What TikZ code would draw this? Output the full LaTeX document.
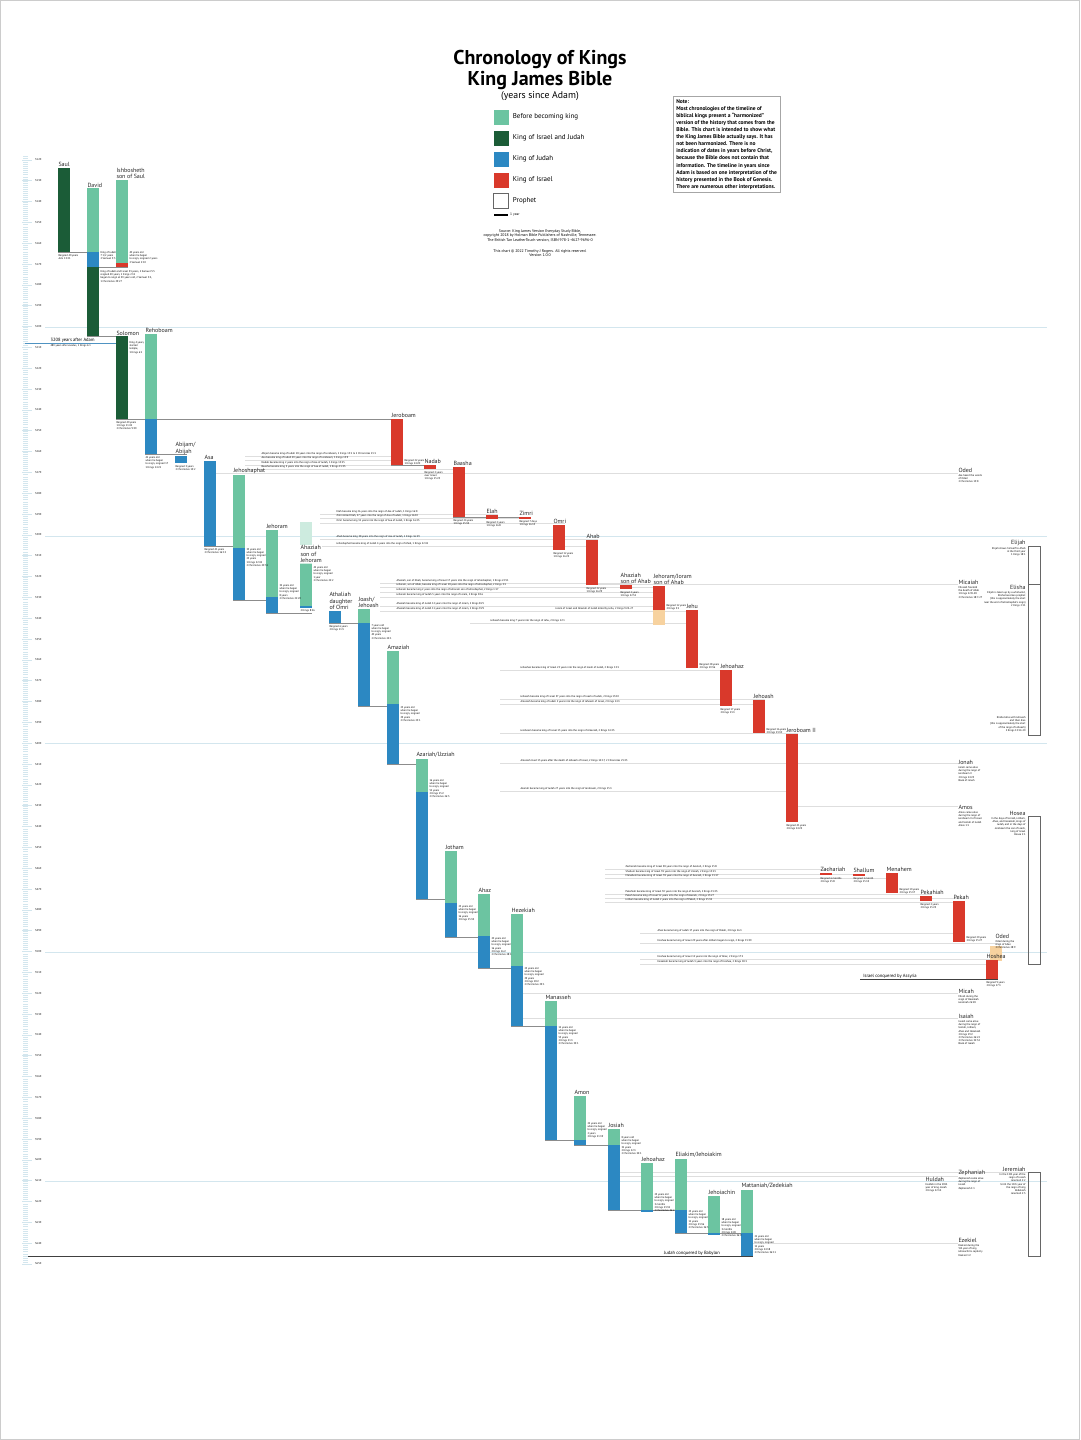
\documentclass[tikz,border=0pt]{standalone}
\usepackage{fontspec}
\setmainfont{PT Sans}
\usepackage{tikz}
\usetikzlibrary{positioning}

\definecolor{before}{HTML}{6CC4A1}
\definecolor{both}{HTML}{1B5C37}
\definecolor{judah}{HTML}{2C88C2}
\definecolor{israel}{HTML}{D9392B}
\definecolor{pale}{HTML}{F7D29F}
\definecolor{palegreen}{HTML}{CDEBDF}
\definecolor{gridblue}{HTML}{D3E6EE}
\definecolor{adamblue}{HTML}{4F93C2}

\newcommand{\kingfont}{\fontsize{6}{6.4}\selectfont}
\newcommand{\tinyfont}{\fontsize{2.7}{3.2}\selectfont}
% one segment of a reign bar: colour, left x, top y, bottom y
\newcommand{\seg}[4]{\fill[#1] (#2,#3) rectangle (#2+12,#4);}

\tikzset{
  kname/.style={font=\kingfont, anchor=south west, inner sep=0.3pt, text=black!85},
  pname/.style={font=\kingfont, anchor=south east, inner sep=0.3pt, text=black!85},
  tiny/.style={font=\tinyfont, anchor=north west, align=left, inner sep=0.3pt},
  tinyr/.style={font=\tinyfont, anchor=north east, align=right, inner sep=0.3pt},
  synctext/.style={font=\tinyfont, anchor=south west, inner sep=0.4pt},
  syncline/.style={draw=black!13, line width=0.5pt},
  endline/.style={draw=black!45, line width=0.6pt},
  century/.style={draw=gridblue, line width=0.8pt},
  prophetbox/.style={draw=black!60, line width=0.6pt},
  legbox/.style={minimum size=15pt, inner sep=0pt},
  legtext/.style={font=\fontsize{7}{8}\selectfont, anchor=west, inner sep=0pt},
  tick/.style={draw=gridblue, line width=0.5pt}
}

\begin{document}
\begin{tikzpicture}[x=1pt,y=-1pt]
\useasboundingbox (0,0) rectangle (1080,1440);
\draw[black!20, line width=1pt] (0.5,0.5) rectangle (1079.5,1439.5);

% title and legend
\node[font=\fontsize{20}{21}\selectfont\bfseries] (title1) at (540,59) {Chronology of Kings};
\node[font=\fontsize{20}{21}\selectfont\bfseries] (title2) at (540,81) {King James Bible};
\node[font=\fontsize{9.8}{10}\selectfont] (subtitle) at (540,96) {(years since Adam)};

\node[legbox, fill=before] (lg1) at (501,117) {};
\node[legbox, fill=both] (lg2) at (501,138) {};
\node[legbox, fill=judah] (lg3) at (501,159) {};
\node[legbox, fill=israel] (lg4) at (501,180) {};
\node[legbox, draw=black!60, line width=0.5pt] (lg5) at (501,201) {};
\node[legtext, right=4pt of lg1] {Before becoming king};
\node[legtext, right=4pt of lg2] {King of Israel and Judah};
\node[legtext, right=4pt of lg3] {King of Judah};
\node[legtext, right=4pt of lg4] {King of Israel};
\node[legtext, right=4pt of lg5] {Prophet};
\coordinate (yr1) at (494,215);
\coordinate (yr2) at (508,215);
\draw[line width=2pt] (yr1) -- (yr2);
\node[font=\fontsize{3.6}{4}\selectfont, anchor=west, inner sep=0pt, right=2pt of yr2] {1 year};

\node[font=\fontsize{3.9}{4.4}\selectfont, align=center, anchor=north] (source) at (540,226)
  {Source: King James Version Everyday Study Bible,\\
   copyright 2018 by Holman Bible Publishers of Nashville, Tennessee.\\
   The British Tan LeatherTouch version, ISBN 978-1-4627-9696-0};
\node[font=\fontsize{3.9}{4.4}\selectfont, align=center, anchor=north] (rights) at (540,246)
  {This chart \textcopyright\ 2022 Timothy J Rogers. All rights reserved.\\ Version 1.0.0};

\node[draw=black!35, line width=0.5pt, anchor=north west, align=left, inner sep=3pt,
  font=\fontsize{5.5}{7.1}\selectfont\bfseries] (note) at (673,96)
  {Note:\\
   Most chronologies of the timeline of\\
   biblical kings present a ``harmonized''\\
   version of the history that comes from the\\
   Bible. This chart is intended to show what\\
   the King James Bible actually says. It has\\
   not been harmonized. There is no\\
   indication of dates in years before Christ,\\
   because the Bible does not contain that\\
   information. The timeline in years since\\
   Adam is based on one interpretation of the\\
   history presented in the Book of Genesis.\\
   There are numerous other interpretations.};

% year ruler
\foreach \i in {0,...,532}
  \draw[tick] (23,156+\i*2.083) -- (28,156+\i*2.083);
\foreach \i [evaluate=\i as \yr using int(3120+10*\i)] in {0,...,53} {
  \draw[tick, line width=0.7pt] (22,160+\i*20.83) -- (32,160+\i*20.83);
  \node[font=\fontsize{2.8}{3}\selectfont, anchor=west, inner sep=0pt] at (35,160+\i*20.83) {\yr};
}

% century lines
\foreach \y in {327,536,743,952,1181}
  \draw[century] (45,\y) -- (1047,\y);

% synchronism lines
\begin{scope}[every node/.style={synctext}]
  \draw[syncline] (245,456) -- (391,456) node[pos=0, xshift=16pt] {Abijam became king of Judah 18 years into the reign of Jeroboam, 1 Kings 15:1 \& 2 Chronicles 13:1};
  \draw[syncline] (245,460) -- (391,460) node[pos=0, xshift=16pt] {Asa became king of Judah 20 years into the reign of Jeroboam, 1 Kings 15:9};
  \draw[syncline] (245,465) -- (436,465) node[pos=0, xshift=16pt] {Nadab became king 2 years into the reign of Asa of Judah, 1 Kings 15:25};
  \draw[syncline] (245,469) -- (465,469) node[pos=0, xshift=16pt] {Baasha became king 3 years into the reign of Asa of Judah, 1 Kings 15:33};
  \draw[syncline] (216,473) -- (958,473);
  \draw[syncline] (320,514) -- (498,514) node[pos=0, xshift=16pt] {Elah became king 26 years into the reign of Asa of Judah, 1 Kings 16:8};
  \draw[syncline] (320,518) -- (531,518) node[pos=0, xshift=16pt] {Zimri killed Elah, 27 years into the reign of Asa of Judah, 1 Kings 16:10};
  \draw[syncline] (320,523) -- (565,523) node[pos=0, xshift=16pt] {Omri became king 31 years into the reign of Asa of Judah, 1 Kings 16:23};
  \draw[syncline] (320,539) -- (598,539) node[pos=0, xshift=16pt] {Ahab became king 38 years into the reign of Asa of Judah, 1 Kings 16:29};
  \draw[syncline] (320,546) -- (598,546) node[pos=0, xshift=16pt] {Jehoshaphat became king of Judah 4 years into the reign of Ahab, 1 Kings 22:41};
  \draw[syncline] (598,584) -- (958,584);
  \draw[syncline] (380,583) -- (632,583) node[pos=0, xshift=16pt] {Ahaziah, son of Ahab, became king of Israel 17 years into the reign of Jehoshaphat, 1 Kings 22:51};
  \draw[syncline] (380,587) -- (665,587) node[pos=0, xshift=16pt] {Jehoram, son of Ahab, became king of Israel 18 years into the reign of Jehoshaphat, 2 Kings 3:1};
  \draw[syncline] (380,592) -- (665,592) node[pos=0, xshift=16pt] {Jehoram became king 2 years into the reign of Jehoram son of Jehoshaphat, 2 Kings 1:17};
  \draw[syncline] (380,597) -- (665,597) node[pos=0, xshift=16pt] {Jehoram became king of Judah 5 years into the reign of Joram, 2 Kings 8:16};
  \draw[syncline] (380,606) -- (665,606) node[pos=0, xshift=16pt] {Ahaziah became king of Judah 12 years into the reign of Joram, 2 Kings 8:25};
  \draw[syncline] (380,611) -- (698,611) node[pos=0, xshift=16pt] {Ahaziah became king of Judah 11 years into the reign of Joram, 2 Kings 9:29}
     node[pos=0.55] {Joram of Israel and Ahaziah of Judah killed by Jehu, 2 Kings 9:24-27};
  \draw[syncline] (470,623) -- (698,623) node[pos=0, xshift=20pt] {Jehoash became king 7 years into the reign of Jehu, 2 Kings 12:1};
  \draw[syncline] (500,670) -- (732,670) node[pos=0, xshift=20pt] {Jehoahaz became king of Israel 23 years into the reign of Joash of Judah, 2 Kings 13:1};
  \draw[syncline] (500,699) -- (765,699) node[pos=0, xshift=20pt] {Jehoash became king of Israel 37 years into the reign of Joash of Judah, 2 Kings 13:10};
  \draw[syncline] (500,704) -- (765,704) node[pos=0, xshift=20pt] {Amaziah became king of Judah 2 years into the reign of Jehoash of Israel, 2 Kings 14:1};
  \draw[syncline] (500,733) -- (798,733) node[pos=0, xshift=20pt] {Jeroboam became king of Israel 15 years into the reign of Amaziah, 2 Kings 14:23};
  \draw[syncline] (500,763) -- (958,763) node[pos=0, xshift=20pt] {Amaziah lived 15 years after the death of Jehoash of Israel, 2 Kings 14:17, 2 Chronicles 25:25};
  \draw[syncline] (500,791) -- (798,791) node[pos=0, xshift=20pt] {Azariah became king of Judah 27 years into the reign of Jeroboam, 2 Kings 15:1};
  \draw[syncline] (798,806) -- (958,806);
  \draw[syncline] (605,869) -- (832,869) node[pos=0, xshift=20pt] {Zachariah became king of Israel 38 years into the reign of Azariah, 2 Kings 15:8};
  \draw[syncline] (605,874) -- (865,874) node[pos=0, xshift=20pt] {Shallum became king of Israel 39 years into the reign of Uzziah, 2 Kings 15:13};
  \draw[syncline] (605,878) -- (898,878) node[pos=0, xshift=20pt] {Menahem became king of Israel 39 years into the reign of Azariah, 2 Kings 15:17};
  \draw[syncline] (605,894) -- (932,894) node[pos=0, xshift=20pt] {Pekahiah became king of Israel 50 years into the reign of Azariah, 2 Kings 15:23};
  \draw[syncline] (605,898) -- (965,898) node[pos=0, xshift=20pt] {Pekah became king of Israel 52 years into the reign of Azariah, 2 Kings 15:27};
  \draw[syncline] (605,902) -- (965,902) node[pos=0, xshift=20pt] {Jotham became king of Judah 2 years into the reign of Pekah, 2 Kings 15:32};
  \draw[syncline] (640,933) -- (965,933) node[pos=0, xshift=17pt] {Ahaz became king of Judah 17 years into the reign of Pekah, 2 Kings 16:1};
  \draw[syncline] (640,943) -- (998,943) node[pos=0, xshift=17pt] {Hoshea became king of Israel 20 years after Jotham began to reign, 2 Kings 15:30};
  \draw[syncline] (640,959) -- (998,959) node[pos=0, xshift=17pt] {Hoshea became king of Israel 12 years into the reign of Ahaz, 2 Kings 17:1};
  \draw[syncline] (640,964) -- (998,964) node[pos=0, xshift=17pt] {Hezekiah became king of Judah 3 years into the reign of Hoshea, 2 Kings 18:1};
  \draw[syncline] (523,993) -- (958,993);
  \draw[syncline] (523,1018) -- (958,1018);
  \draw[syncline] (620,1172) -- (1028,1172);
  \draw[syncline] (620,1176) -- (958,1176);
  \draw[syncline] (753,1243) -- (958,1243);
\end{scope}

% succession lines
\begin{scope}[every path/.style={endline}]
  \draw (58,252) -- (99,252);
  \draw (87,267) -- (128,267);
  \draw (87,336) -- (128,336);
  \draw (116,419) -- (403,419);
  \draw (145,454) -- (187,454);
  \draw (204,546) -- (245,546);
  \draw (233,600) -- (278,600);
  \draw (266,613) -- (312,613);
  \draw (329,623) -- (370,623);
  \draw (358,706) -- (399,706);
  \draw (387,764) -- (428,764);
  \draw (416,899) -- (457,899);
  \draw (445,937) -- (490,937);
  \draw (478,968) -- (523,968);
  \draw (511,1026) -- (557,1026);
  \draw (545,1140) -- (586,1140);
  \draw (574,1145) -- (620,1145);
  \draw (608,1210) -- (687,1210);
  \draw (675,1233) -- (753,1233);
  \draw (391,465) -- (436,465);
  \draw (453,517) -- (531,517);
\end{scope}

% 3208 years after Adam
\draw[adamblue, line width=0.8pt] (25,343) -- (116,343);
\node[font=\fontsize{4.6}{5}\selectfont, anchor=south west, inner sep=0.3pt] (adam) at (50,343) {3208 years after Adam};
\node[tiny] at (50,344) {480 years after exodus, 1 Kings 6:1};

% kings of Israel and Judah, kings of Judah
\seg{both}{58}{168}{252}
\seg{before}{87}{188}{252} \seg{judah}{87}{252}{267} \seg{both}{87}{267}{336}
\seg{before}{116}{180}{263} \seg{israel}{116}{263}{267}
\seg{both}{116}{336}{419}
\seg{before}{145}{334}{419} \seg{judah}{145}{419}{454}
\seg{judah}{175}{456}{463}
\seg{judah}{204}{461}{546}
\seg{before}{233}{475}{548} \seg{judah}{233}{548}{600}
\seg{before}{266}{530}{597} \seg{judah}{266}{597}{613}
\seg{palegreen}{300}{522}{564} \seg{before}{300}{564}{606} \seg{judah}{300}{606}{608}
\seg{judah}{329}{611}{623}
\seg{before}{358}{609}{623} \seg{judah}{358}{623}{706}
\seg{before}{387}{651}{704} \seg{judah}{387}{704}{764}
\seg{before}{416}{759}{792} \seg{judah}{416}{792}{899}
\seg{before}{445}{851}{903} \seg{judah}{445}{903}{937}
\seg{before}{478}{894}{936} \seg{judah}{478}{936}{968}
\seg{before}{511}{914}{966} \seg{judah}{511}{966}{1026}
\seg{before}{545}{1001}{1026} \seg{judah}{545}{1026}{1140}
\seg{before}{574}{1096}{1140} \seg{judah}{574}{1140}{1145}
\seg{before}{608}{1129}{1145} \seg{judah}{608}{1145}{1210}
\seg{before}{641}{1163}{1210} \seg{judah}{641}{1210}{1211.5}
\seg{before}{675}{1159}{1210} \seg{judah}{675}{1210}{1233}
\seg{before}{708}{1196}{1233} \seg{judah}{708}{1233}{1234.5}
\seg{before}{741}{1190}{1233} \seg{judah}{741}{1233}{1256}

% kings of Israel
\seg{israel}{391}{419}{465}
\seg{israel}{424}{465}{469}
\seg{israel}{453}{467}{517}
\seg{israel}{486}{515}{519}
\seg{israel}{519}{517}{518.5}
\seg{israel}{553}{525}{550}
\seg{israel}{586}{540}{585}
\seg{israel}{620}{585}{589}
\seg{israel}{653}{586}{610} \seg{pale}{653}{610}{625}
\seg{israel}{686}{610}{668}
\seg{israel}{720}{670}{706}
\seg{israel}{753}{700}{733}
\seg{israel}{786}{734}{822}
\seg{israel}{820}{873}{875}
\seg{israel}{853}{874}{875.5}
\seg{israel}{886}{873}{893}
\seg{israel}{920}{896}{901}
\seg{israel}{953}{901}{942}
\seg{pale}{990}{946}{961}
\seg{israel}{986}{960}{979}

% end of the kingdoms
\draw[black!75, line width=1pt] (28,1256) -- (753,1256);
\node[font=\fontsize{4.6}{5}\selectfont, anchor=south, inner sep=0.6pt] (babylon) at (692,1256) {Judah conquered by Babylon};
\draw[black!75, line width=1pt] (860,979) -- (998,979);
\node[font=\fontsize{4.6}{5}\selectfont, anchor=south, inner sep=0.6pt] (assyria) at (890,979) {Israel conquered by Assyria};

% king names
\node[kname] (saul) at (58,167) {Saul};
\node[kname] (david) at (87,188) {David};
\node[kname, align=left] (ishbosheth) at (116,179) {Ishbosheth\\son of Saul};
\node[kname] (solomon) at (116,336) {Solomon};
\node[kname] (rehoboam) at (145,333) {Rehoboam};
\node[kname, align=left] (abijam) at (175,455) {Abijam/\\Abijah};
\node[kname] (asa) at (204,460) {Asa};
\node[kname] (jehoshaphat) at (233,474) {Jehoshaphat};
\node[kname] (jehoram) at (266,529) {Jehoram};
\node[kname, align=left, fill=white] (ahaziahj) at (300,563) {Ahaziah\\son of\\Jehoram};
\node[kname, align=left] (athaliah) at (329,610) {Athaliah\\daughter\\of Omri};
\node[kname, align=left] (joash) at (358,608) {Joash/\\Jehoash};
\node[kname] (amaziah) at (387,650) {Amaziah};
\node[kname] (azariah) at (416,758) {Azariah/Uzziah};
\node[kname] (jotham) at (445,850) {Jotham};
\node[kname] (ahaz) at (478,893) {Ahaz};
\node[kname] (hezekiah) at (511,913) {Hezekiah};
\node[kname] (manasseh) at (545,1000) {Manasseh};
\node[kname] (amon) at (574,1095) {Amon};
\node[kname] (josiah) at (608,1128) {Josiah};
\node[kname] (jehoahazj) at (641,1162) {Jehoahaz};
\node[kname] (jehoiakim) at (675,1158) {Eliakim/Jehoiakim};
\node[kname] (jehoiachin) at (708,1195) {Jehoiachin};
\node[kname] (zedekiah) at (741,1189) {Mattaniah/Zedekiah};
\node[kname] (jeroboam) at (391,418) {Jeroboam};
\node[kname] (nadab) at (424,464) {Nadab};
\node[kname] (baasha) at (453,466) {Baasha};
\node[kname] (elah) at (486,514) {Elah};
\node[kname] (zimri) at (519,516) {Zimri};
\node[kname] (omri) at (553,524) {Omri};
\node[kname] (ahab) at (586,539) {Ahab};
\node[kname, align=left] (ahaziahi) at (620,584) {Ahaziah\\son of Ahab};
\node[kname, align=left] (joram) at (653,585) {Jehoram/Joram\\son of Ahab};
\node[kname] (jehu) at (686,609) {Jehu};
\node[kname] (jehoahazi) at (720,669) {Jehoahaz};
\node[kname] (jehoash) at (753,699) {Jehoash};
\node[kname] (jeroboamii) at (786,733) {Jeroboam II};
\node[kname] (zachariah) at (820,872) {Zachariah};
\node[kname] (shallum) at (853,873) {Shallum};
\node[kname] (menahem) at (886,872) {Menahem};
\node[kname] (pekahiah) at (920,895) {Pekahiah};
\node[kname] (pekah) at (953,900) {Pekah};
\node[kname] (hoshea) at (986,959) {Hoshea};

% reign notes
\begin{scope}[every node/.style={tiny}]
  \node at (58,254) {Reigned 40 years\\Acts 13:21};
  \node at (100,251) {King of Judah\\7 1/2 years\\2 Samuel 5:5};
  \node at (100,270) {King of Judah and Israel 33 years, 2 Samuel 5:5\\reigned 40 years, 1 Kings 2:11\\began to reign at 30 years old, 2 Samuel 5:4,\\1 Chronicles 29:27};
  \node at (129,251) {40 years old\\when he began\\to reign, reigned 2 years\\2 Samuel 2:10};
  \node at (129,341) {King 4 years,\\started\\temple,\\1 Kings 6:1};
  \node at (116,421) {Reigned 40 years\\1 Kings 11:42\\2 Chronicles 9:30};
  \node at (145,456) {41 years old\\when he began\\to reign, reigned 17\\1 Kings 14:21};
  \node at (175,465) {Reigned 3 years\\2 Chronicles 13:2};
  \node at (204,548) {Reigned 41 years\\2 Chronicles 16:13};
  \node at (246,548) {35 years old\\when he began\\to reign, reigned\\25 years\\1 Kings 22:42\\2 Chronicles 20:31};
  \node at (279,584) {32 years old\\when he began\\to reign, reigned\\8 years\\2 Chronicles 21:20};
  \node at (313,566) {42 years old\\when he began\\to reign, reigned\\1 year\\2 Chronicles 22:2};
  \node at (300,609) {2 Kings 8:26};
  \node at (329,625) {Reigned 6 years\\2 Kings 11:3};
  \node at (371,624) {7 years old\\when he began\\to reign, reigned\\40 years\\2 Chronicles 24:1};
  \node at (400,706) {25 years old\\when he began\\to reign, reigned\\29 years\\2 Chronicles 25:1};
  \node at (429,779) {16 years old\\when he began\\to reign, reigned\\52 years\\2 Kings 15:2\\2 Chronicles 26:3};
  \node at (458,905) {25 years old\\when he began\\to reign, reigned\\16 years\\2 Kings 15:33};
  \node at (491,937) {20 years old\\when he began\\to reign, reigned\\16 years\\2 Kings 16:2\\2 Chronicles 28:1};
  \node at (524,967) {25 years old\\when he began\\to reign, reigned\\29 years\\2 Kings 18:2\\2 Chronicles 29:1};
  \node at (558,1026) {12 years old\\when he began\\to reign, reigned\\55 years\\2 Kings 21:1\\2 Chronicles 33:1};
  \node at (587,1122) {22 years old\\when he began\\to reign, reigned\\2 years\\2 Kings 21:19};
  \node at (621,1136) {8 years old\\when he began\\to reign, reigned\\31 years\\2 Kings 22:1\\2 Chronicles 34:1};
  \node at (654,1193) {23 years old\\when he began\\to reign, reigned\\3 months\\2 Kings 23:31\\2 Chronicles 36:2};
  \node at (688,1210) {25 years old\\when he began\\to reign, reigned\\11 years\\2 Kings 23:36\\2 Chronicles 36:5};
  \node at (721,1218) {18 years old\\when he began\\to reign, reigned\\3 months\\2 Kings 24:8\\2 Chronicles 36:9};
  \node at (754,1235) {21 years old\\when he began\\to reign, reigned\\11 years\\2 Kings 24:18\\2 Chronicles 36:11};
  \node at (404,459) {Reigned 22 years\\1 Kings 14:20};
  \node at (424,471) {Reigned 2 years\\over Israel\\1 Kings 15:25};
  \node at (453,519) {Reigned 24 years\\1 Kings 15:33};
  \node at (486,521) {Reigned 2 years\\1 Kings 16:8};
  \node at (519,520) {Reigned 7 days\\1 Kings 16:15};
  \node at (553,552) {Reigned 12 years\\1 Kings 16:23};
  \node at (586,587) {Reigned 22 years\\1 Kings 16:29};
  \node at (620,591) {Reigned 2 years\\1 Kings 22:51};
  \node at (666,604) {Reigned 12 years\\2 Kings 3:1};
  \node at (699,663) {Reigned 28 years\\2 Kings 10:36};
  \node at (720,708) {Reigned 17 years\\2 Kings 13:1};
  \node at (766,728) {Reigned 16 years\\2 Kings 13:10};
  \node at (786,824) {Reigned 41 years\\2 Kings 14:23};
  \node at (820,877) {Reigned 6 months\\2 Kings 15:8};
  \node at (853,877) {Reigned 1 month\\2 Kings 15:13};
  \node at (899,888) {Reigned 10 years\\2 Kings 15:17};
  \node at (920,903) {Reigned 2 years\\2 Kings 15:23};
  \node at (966,936) {Reigned 20 years\\2 Kings 15:27};
  \node at (986,981) {Reigned 9 years\\2 Kings 17:1};
\end{scope}

% prophets
\draw[prophetbox] (1028,546) rectangle (1040,584);
\draw[prophetbox] (1028,584) rectangle (1040,735);
\draw[prophetbox] (1028,816) rectangle (1040,964);
\draw[prophetbox] (1028,1172) rectangle (1040,1256);

\node[kname] (oded) at (958,473) {Oded};
\node[kname] (micaiah) at (958,585) {Micaiah};
\node[kname] (jonah) at (958,765) {Jonah};
\node[kname] (amos) at (958,810) {Amos};
\node[kname] (odedii) at (995,939) {Oded};
\node[kname] (micah) at (958,994) {Micah};
\node[kname] (isaiah) at (958,1019) {Isaiah};
\node[kname] (huldah) at (925,1182) {Huldah};
\node[kname] (zephaniah) at (958,1176) {Zephaniah};
\node[kname] (ezekiel) at (958,1243) {Ezekiel};
\node[pname] (elijah) at (1026,546) {Elijah};
\node[pname] (elisha) at (1026,590) {Elisha};
\node[pname] (hosea) at (1026,816) {Hosea};
\node[pname] (jeremiah) at (1026,1172) {Jeremiah};

\begin{scope}[every node/.style={tiny}]
  \node at (958,474) {Asa heard the words\\of Oded\\2 Chronicles 15:8};
  \node at (958,586) {Micaiah foretold\\the death of Ahab\\1 Kings 22:8-28\\2 Chronicles 18:7-27};
  \node at (958,766) {Jonah came alive\\during the reign of\\Jeroboam II\\2 Kings 14:25\\Book of Jonah};
  \node at (958,811) {Amos came alive\\during the reign of\\Jeroboam II of Israel\\and Uzziah of Judah\\Amos 1:1};
  \node at (995,940) {Oded during the\\reign of Ahaz\\2 Chronicles 28:9};
  \node at (958,995) {Micah during the\\reign of Hezekiah\\Jeremiah 26:18};
  \node at (958,1020) {Isaiah came alive\\during the reign of\\Uzziah, Jotham,\\Ahaz and Hezekiah\\2 Kings 19:2\\2 Chronicles 26:22\\2 Chronicles 32:32\\Book of Isaiah};
  \node at (925,1183) {Huldah in the 18th\\year of king Josiah\\2 Kings 22:14};
  \node at (958,1177) {Zephaniah came alive\\during the reign of\\Josiah\\Zephaniah 1:1};
  \node at (958,1244) {Ezekiel during the\\5th year of king\\Jehoiachin's captivity\\Ezekiel 1:2};
\end{scope}
\begin{scope}[every node/.style={tinyr}]
  \node at (1026,547) {Elijah shows himself to Ahab\\in the third year\\1 Kings 18:1};
  \node at (1026,591) {Elijah is taken up by a whirlwind,\\Elisha becomes prophet\\(this is approximately the start\\near the end of Jehoshaphat's reign)\\2 Kings 2:11};
  \node at (1026,716) {Elisha talks with Jehoash\\and then dies\\(this is approximately the start\\of the reign of Jehoash)\\2 Kings 13:14-20};
  \node at (1026,817) {In the days of Uzziah, Jotham,\\Ahaz, and Hezekiah, kings of\\Judah, and in the days of\\Jeroboam the son of Joash,\\king of Israel\\Hosea 1:1};
  \node at (1026,1173) {In the 13th year of the\\reign of Josiah\\Jeremiah 1:2\\Until the 11th year of\\the reign of king\\Zedekiah\\Jeremiah 1:3};
\end{scope}
\end{tikzpicture}
\end{document}
